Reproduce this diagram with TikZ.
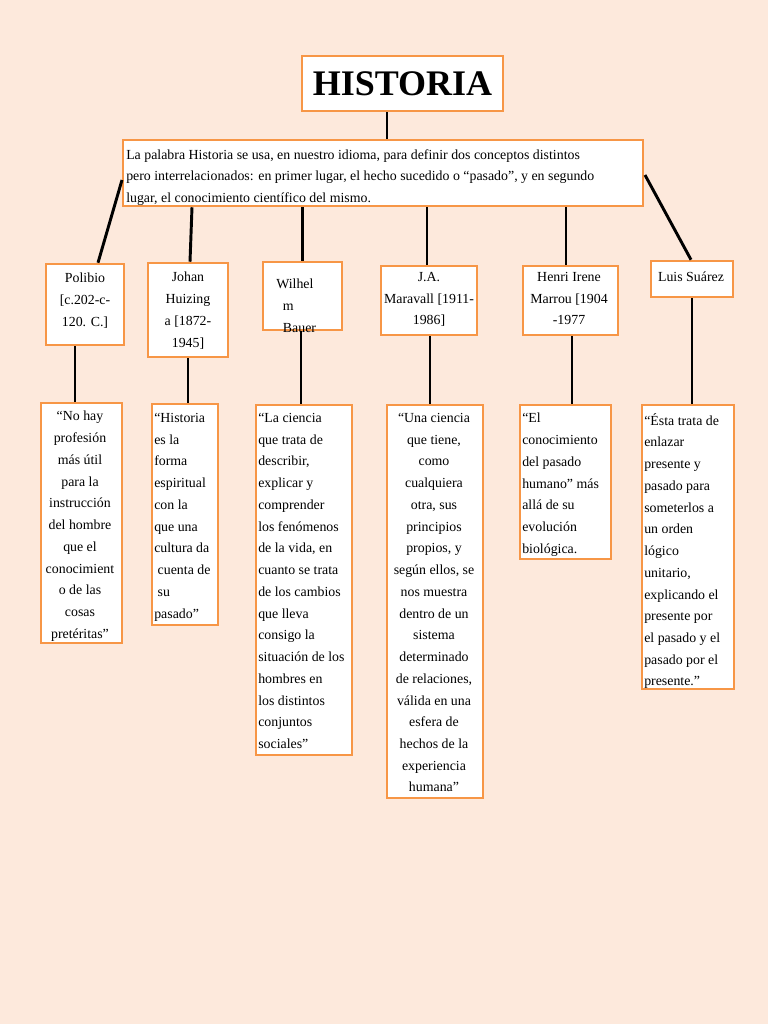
\documentclass[tikz,border=0pt]{standalone}
\usepackage{fontspec}
\setmainfont{Liberation Serif}
\usetikzlibrary{fit}
\definecolor{bg}{HTML}{FDE9DC}
\definecolor{ob}{HTML}{F79646}
\tikzset{
 box/.style={draw=ob,fill=white,line width=1.9pt,inner sep=0pt},
 txt/.style={inner sep=0pt,font=\fontsize{10.4}{16.3}\selectfont},
 con/.style={line width=2.2pt,black}
}
\begin{document}
\begin{tikzpicture}[x=0.75pt,y=-0.75pt]
\fill[bg] (0,0) rectangle (768,1024);
\useasboundingbox (0,0) rectangle (768,1024);
% boxes
\node[box,fit={(302,56)(503,111)}] (h) {};
\node[box,fit={(123,140)(643,206)}] (d) {};
\node[box,fit={(46,264)(124,345)}] (p) {};
\node[box,fit={(148,263)(228,357)}] (j) {};
\node[box,fit={(263,262)(342,330)}] (w) {};
\node[box,fit={(381,266)(477,335)}] (m) {};
\node[box,fit={(523,266)(618,335)}] (r) {};
\node[box,fit={(651,261)(733,297)}] (s) {};
\node[box,fit={(41,403)(122,643)}] (p2) {};
\node[box,fit={(152,404)(218,625)}] (j2) {};
\node[box,fit={(256,405)(352,755)}] (w2) {};
\node[box,fit={(387,405)(483,798)}] (m2) {};
\node[box,fit={(520,405)(611,559)}] (r2) {};
\node[box,fit={(642,405)(734,689)}] (s2) {};
% connectors
\coordinate (dl) at (122,180); \coordinate (dr) at (645,175);
\draw[con] (h.south -| 387,0) -- (d.north -| 387,0);
\draw[con] (dl) -- (p.north -| 98,0);
\draw[con] (d.south -| 192,0) -- (j.north -| 190,0);
\draw[con] (d.south -| w.north) -- (w.north);
\draw[con] (d.south -| 427,0) -- (m.north -| 427,0);
\draw[con] (d.south -| 566,0) -- (r.north -| 566,0);
\draw[con] (dr) -- (s.north -| 691,0);
\draw[con] (p.south -| 75,0) -- (p2.north -| 75,0);
\draw[con] (j.south -| 188,0) -- (j2.north -| 188,0);
\draw[con] (w.south -| 301,0) -- (w2.north -| 301,0);
\draw[con] (m.south -| 430,0) -- (m2.north -| 430,0);
\draw[con] (r.south -| 572,0) -- (r2.north -| 572,0);
\draw[con] (s.south -| 692,0) -- (s2.north -| 692,0);
% texts
\node[inner sep=0pt,font=\fontsize{27}{30}\selectfont\bfseries] at (h.center) {HISTORIA};
\node[txt,anchor=north west,align=left] at (126,149) {La palabra Historia se usa, en nuestro idioma, para definir dos conceptos distintos\\pero interrelacionados: en primer lugar, el hecho sucedido o “pasado”, y en  segundo\\lugar, el conocimiento científico  del mismo.};
\node[txt,anchor=north,align=center] at (85,273) {Polibio\\{}[c.202-c-\\120. C.]};
\node[txt,anchor=north,align=center] at (188,272) {Johan\\Huizing\\a  [1872-\\1945]};
\node[txt,anchor=north west,align=left] at (276,279) {Wilhel\\\hspace*{5pt}m\\\hspace*{5pt}Bauer};
\node[txt,anchor=north,align=center] at (429,272) {J.A.\\Maravall [1911-\\1986]};
\node[txt,anchor=north,align=center] at (569,272) {Henri Irene\\Marrou [1904\\-1977};
\node[txt,anchor=north,align=center] at (691,272) {Luis Suárez};
\node[txt,anchor=north,align=center] at (80,411) {“No hay\\profesión\\más útil\\para la\\instrucción\\del hombre\\que el\\conocimient\\o de las\\cosas\\pretéritas”};
\node[txt,anchor=north west,align=left] at (154,413) {“Historia\\es la\\forma\\espiritual\\con  la\\que una\\cultura da\\\ cuenta de\\\ su\\pasado”};
\node[txt,anchor=north west,align=left] at (258,413) {“La  ciencia\\que trata de\\describir,\\explicar y\\comprender\\los fenómenos\\de la vida, en\\cuanto se  trata\\de los  cambios\\que  lleva\\consigo  la\\situación de los\\hombres  en\\los distintos\\conjuntos\\sociales”};
\node[txt,anchor=north,align=center] at (434,413) {“Una ciencia\\que tiene,\\como\\cualquiera\\otra, sus\\principios\\propios, y\\según ellos, se\\nos muestra\\dentro de un\\sistema\\determinado\\de relaciones,\\válida en una\\esfera de\\hechos de la\\experiencia\\humana”};
\node[txt,anchor=north west,align=left] at (522,413) {“El\\conocimiento\\del pasado\\humano”  más\\allá de su\\evolución\\biológica.};
\node[txt,anchor=north west,align=left] at (644,413) {“Ésta trata de\\enlazar\\presente y\\pasado para\\someterlos a\\un orden\\lógico\\unitario,\\explicando el\\presente por\\el pasado y el\\pasado por el\\presente.”};
\end{tikzpicture}
\end{document}
